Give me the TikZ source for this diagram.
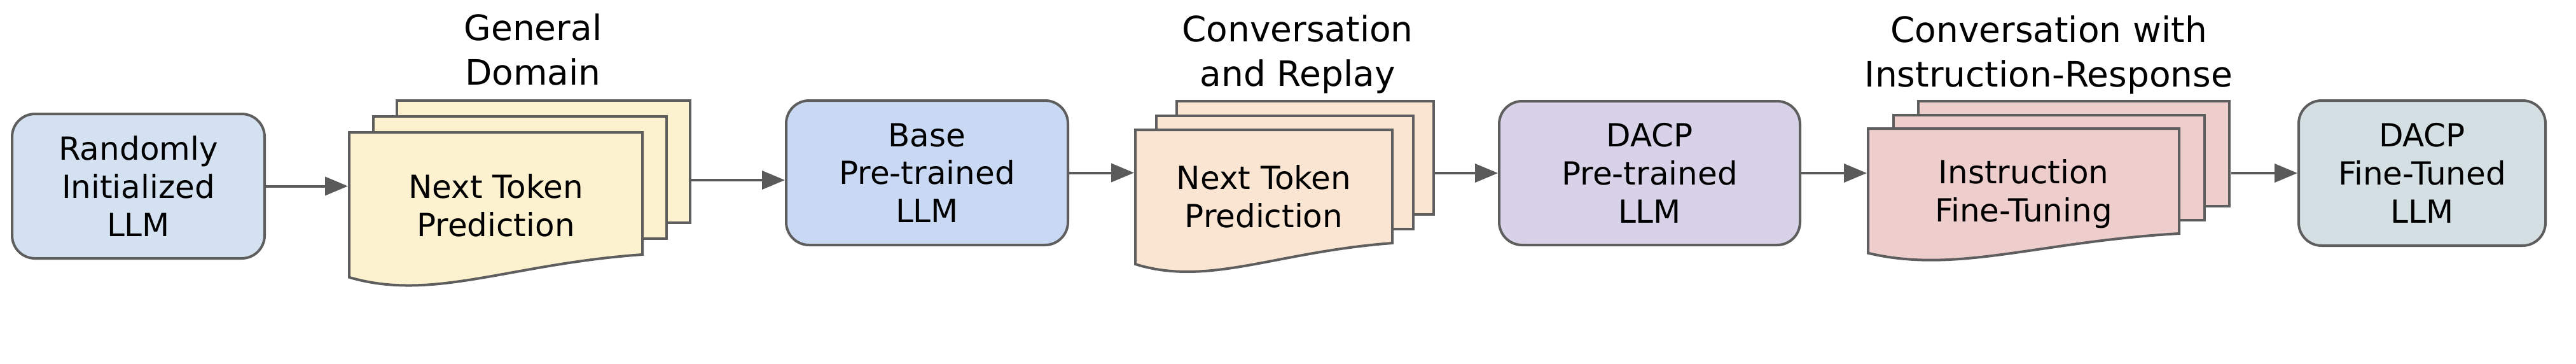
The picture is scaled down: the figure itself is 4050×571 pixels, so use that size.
\documentclass[tikz,border=0pt]{standalone}
\usepackage{fontspec}
\setmainfont{DejaVu Sans}
\usetikzlibrary{arrows.meta}
\definecolor{strokegray}{HTML}{5E5E5E}
\definecolor{arrowgray}{HTML}{5A5A5A}
\definecolor{fillA}{HTML}{D4E1F1}
\definecolor{fillB}{HTML}{C9D9F3}
\definecolor{fillC}{HTML}{D8D2E8}
\definecolor{fillD}{HTML}{D4DFE4}
\definecolor{docA}{HTML}{FCF2D0}
\definecolor{docB}{HTML}{F9E5D2}
\definecolor{docC}{HTML}{EECDCD}
% #1 x0, #2 y0, #3 W, #4 Hr, #5 dx, #6 dy, #7 fill
\newcommand\docstack[7]{%
  \pgfmathsetmacro\dsR{#1+#3}%
  \pgfmathsetmacro\dsB{#2+#4}%
  \foreach \k in {2,1}{%
    \filldraw[page, fill=#7] ({#1+\k*#5},{#2-\k*#6}) rectangle ({\dsR+\k*#5},{\dsB-\k*#6});
  }
  \filldraw[page, fill=#7] (#1,#2) -- (\dsR,#2) -- (\dsR,\dsB)
    .. controls ({#1+0.544*#3},{#2+1.077*#4}) and ({#1+0.286*#3},{#2+1.387*#4}) ..
    (#1,{#2+1.186*#4}) -- cycle;
}
\begin{document}
\begin{tikzpicture}[x=0.25pt,y=-0.25pt,
  boxtext/.style={font=\fontsize{12.5}{14.9}\selectfont, align=center},
  titletext/.style={font=\fontsize{13.75}{17.5}\selectfont, align=center},
  llm/.style={boxtext, draw=strokegray, line width=1pt, rounded corners=9pt, inner sep=0pt},
  page/.style={draw=strokegray, line width=1pt},
  arr/.style={draw=arrowgray, line width=1pt, -{Triangle[length=9pt,width=7.25pt]}}]
\fill[white] (0,0) rectangle (4050,571);
\useasboundingbox (0,0) rectangle (4050,571);

% LLM boxes
\node[llm, fill=fillA, minimum width=99.25pt, minimum height=56.75pt] (b1) at (217.5,292.5) {Randomly\\Initialized\\LLM};
\node[llm, fill=fillB, minimum width=110.75pt, minimum height=56.75pt] (b2) at (1457.5,271.5) {Base\\Pre-trained\\LLM};
\node[llm, fill=fillC, minimum width=118.25pt, minimum height=56.5pt] (b3) at (2593.5,272) {DACP\\Pre-trained\\LLM};
\node[llm, fill=fillD, minimum width=97pt, minimum height=57pt] (b4) at (3808,272) {DACP\\Fine-Tuned\\LLM};

% document stacks
\docstack{549}{208}{461}{192}{37.5}{25}{docA}
\docstack{1785}{204}{404}{178}{32.5}{22.5}{docB}
\docstack{2937}{202}{489}{165}{39.5}{21.5}{docC}

\node[boxtext] (d1) at (779.5,323) {Next Token\\Prediction};
\node[boxtext] (d2) at (1987,309) {Next Token\\Prediction};
\node[boxtext] (d3) at (3181.5,304.5) {Instruction\\Fine-Tuning};

\coordinate (d1in) at (547,292.5);
\coordinate (d1out) at (1087,283);
\coordinate (d2in) at (1783,271.5);
\coordinate (d2out) at (2256,272);
\coordinate (d3in) at (2935,272);
\coordinate (d3out) at (3508,272);

% titles
\node[titletext] (t1) at (838,78) {General\\Domain};
\node[titletext] (t2) at (2040,85) {Conversation\\and Replay};
\node[titletext] (t3) at (3221,86) {Conversation with\\Instruction-Response};

% connectors
\draw[arr] (b1.east) -- (d1in);
\draw[arr] (d1out) -- (d1out -| b2.west);
\draw[arr] (b2.east) -- (d2in);
\draw[arr] (d2out) -- (d2out -| b3.west);
\draw[arr] (b3.east) -- (d3in);
\draw[arr] (d3out) -- (d3out -| b4.west);
\end{tikzpicture}
\end{document}
